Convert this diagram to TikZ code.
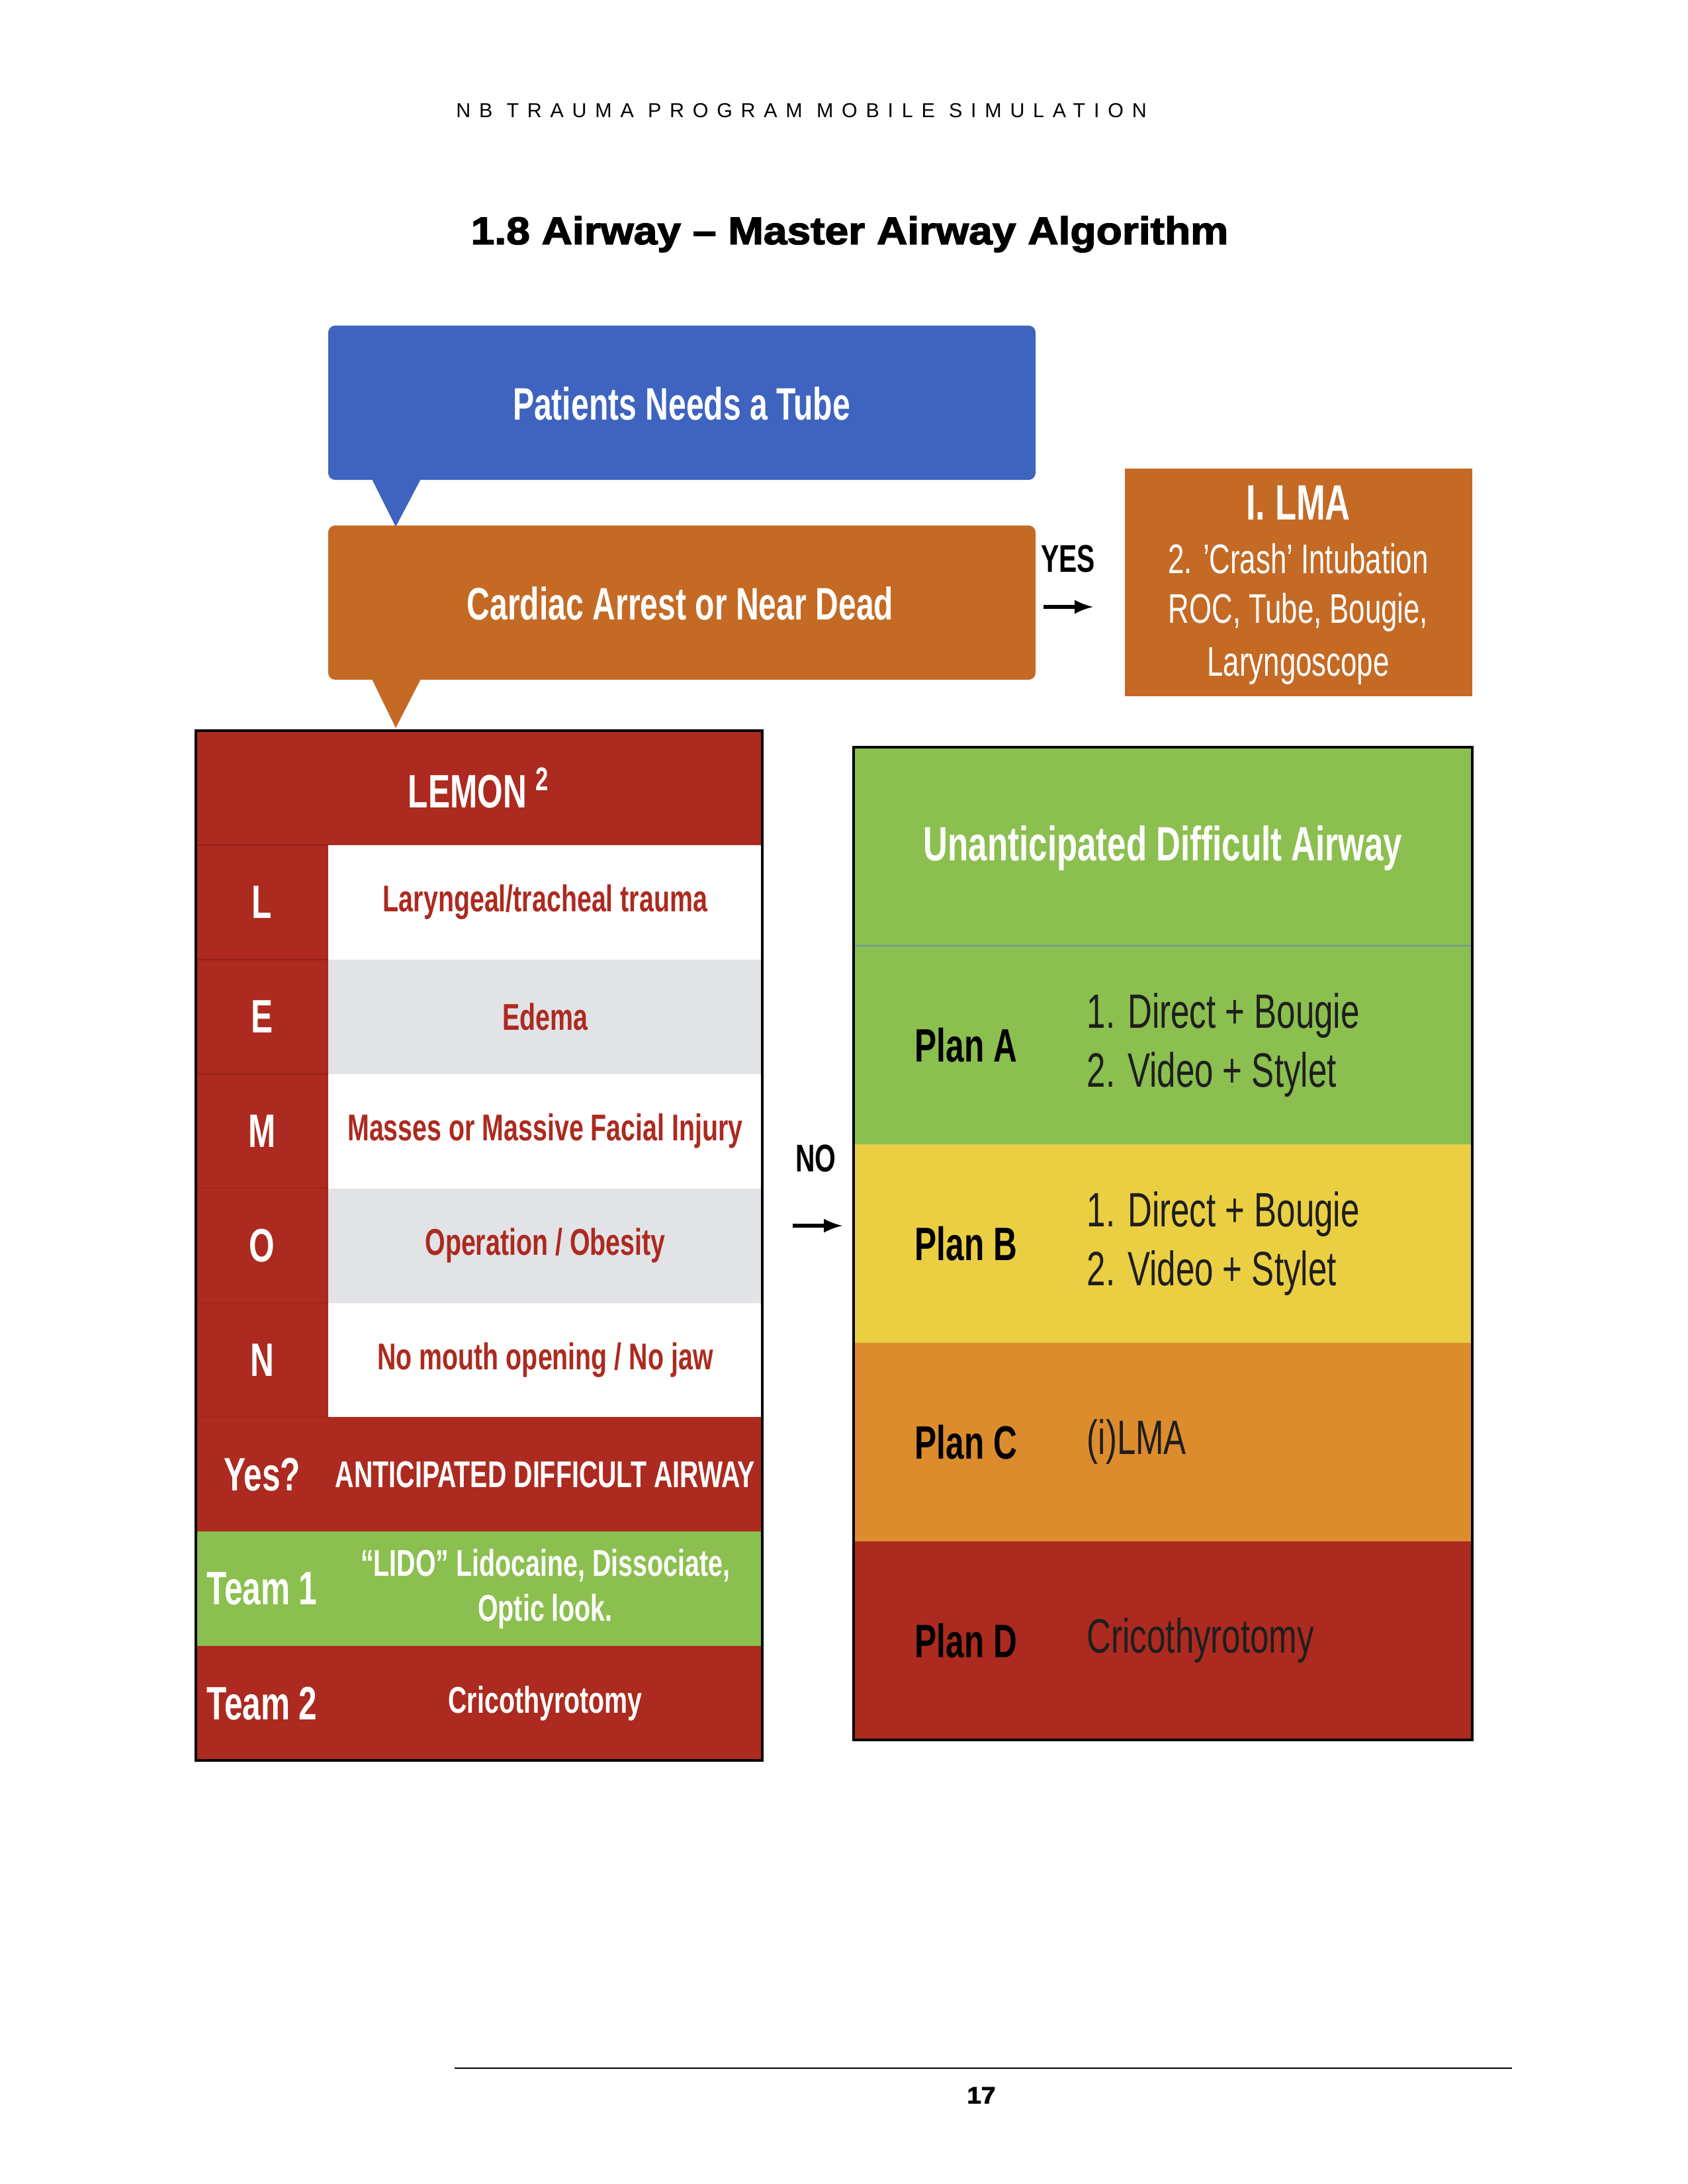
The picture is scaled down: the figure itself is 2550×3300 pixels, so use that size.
\documentclass[tikz,border=0pt]{standalone}
\usepackage{fontspec}
\setmainfont{Liberation Sans}
\newfontfamily\condfont[FakeStretch=0.7]{Liberation Sans}
\newfontfamily\headfont[LetterSpace=42]{Liberation Sans}
\newfontfamily\heavyfont[FakeStretch=1.1,FakeBold=2.5]{Liberation Sans Bold}
\usetikzlibrary{arrows,calc}

\definecolor{tubeblue}{HTML}{3E64BF}
\definecolor{arrestorange}{HTML}{C46A25}
\definecolor{lemonred}{HTML}{AC2A1F}
\definecolor{lemongray}{HTML}{E2E3E7}
\definecolor{teamgreen}{HTML}{8BBF4F}
\definecolor{planyellow}{HTML}{EBCF43}
\definecolor{planorange}{HTML}{DC8C2D}
\definecolor{plandark}{HTML}{1E1E1E}
\definecolor{sepred}{HTML}{952016}
\definecolor{planline}{HTML}{6C93A8}

\tikzset{
  callouttext/.style={text=white, font=\condfont\bfseries\fontsize{16.5}{19}\selectfont},
  lmatext/.style={text=white, font=\condfont\fontsize{15}{18}\selectfont},
  lettertext/.style={text=white, font=\condfont\bfseries\fontsize{17}{20}\selectfont},
  lemontext/.style={text=lemonred, font=\condfont\bfseries\fontsize{13.5}{16.3}\selectfont, align=center},
  plantitle/.style={text=black, font=\condfont\bfseries\fontsize{17}{20}\selectfont},
  plantext/.style={text=plandark, font=\condfont\fontsize{17.5}{21.4}\selectfont, align=left, anchor=west},
  choicetext/.style={font=\condfont\bfseries\fontsize{14}{16}\selectfont},
  choicearrow/.style={->, line width=1.3pt},
  sepline/.style={color=sepred, line width=0.4pt},
}

\begin{document}
\begin{tikzpicture}[x=0.24pt,y=-0.24pt,>=latex]
      \useasboundingbox (0,0) rectangle (2550,3300);
      \node (head) at (1211,167) {\headfont\fontsize{7.3}{8}\selectfont NB TRAUMA PROGRAM MOBILE SIMULATION};
      \node (title) at (1284,354) {\heavyfont\fontsize{14}{16}\selectfont 1.8 Airway – Master Airway Algorithm};

      % callouts
      \fill[tubeblue, rounded corners=2.5pt] (496,492) rectangle (1565,725);
      \fill[tubeblue] (560,720) -- (598,796) -- (638,720) -- cycle;
      \node[callouttext] (tube) at (1030,610) {Patients Needs a Tube};
      \fill[arrestorange, rounded corners=2.5pt] (496,794) rectangle (1565,1027);
      \fill[arrestorange] (560,1022) -- (598,1100) -- (638,1022) -- cycle;
      \node[callouttext] (arrest) at (1028,912) {Cardiac Arrest or Near Dead};

      \fill[arrestorange] (1700,708) rectangle (2225,1052);
      \node[lmatext, font=\condfont\bfseries\fontsize{18}{20}\selectfont] (lma-1) at (1962,760) {I. LMA};
      \node[lmatext] (lma-2) at (1962,844) {2. ’Crash’ Intubation};
      \node[lmatext] (lma-3) at (1962,925) {ROC, Tube, Bougie,};
      \node[lmatext] (lma-4) at (1962,1006) {Laryngoscope};

      \node[choicetext] (yes) at (1614,844) {YES};
      \coordinate (yes-from) at (1577,917);
      \coordinate (yes-to) at (1652,917);
      \draw[choicearrow] (yes-from) -- (yes-to);

      % LEMON
      \def\Lx{296}
      \def\Mx{496}
      \def\Rx{1152}
      \def\Ty{1104}
      \def\rh{172.9}
      \pgfmathsetmacro\By{\Ty+9*\rh}
      \fill[lemonred] (\Lx,\Ty) rectangle (\Rx,\By);
      \node[lettertext] (lemon) at ({(\Lx+\Rx)/2},{\Ty+0.5*\rh}) {LEMON \textsuperscript{2}};
      \foreach \k/\letter/\txt/\bg in {1/L/{Laryngeal/tracheal trauma}/white,
                                       2/E/Edema/lemongray,
                                       3/M/Masses or Massive Facial Injury/white,
                                       4/O/{Operation / Obesity}/lemongray,
                                       5/N/{No mouth opening / No jaw}/white}{
        \fill[\bg] (\Mx,{\Ty+\k*\rh}) rectangle (\Rx,{\Ty+(\k+1)*\rh});
        \draw[sepline] (\Lx,{\Ty+\k*\rh}) -- (\Mx,{\Ty+\k*\rh});
        \node[lettertext] (letter-\letter) at ({(\Lx+\Mx)/2},{\Ty+(\k+0.5)*\rh}) {\letter};
        \node[lemontext] (lemon-\letter) at ({(\Mx+\Rx)/2},{\Ty+(\k+0.5)*\rh}) {\txt};
      }
      \draw[sepline] (\Lx,{\Ty+6*\rh}) -- (\Mx,{\Ty+6*\rh});
      \node[lettertext] (yes-q) at ({(\Lx+\Mx)/2},{\Ty+6.5*\rh}) {Yes?};
      \node[lemontext, text=white, font=\condfont\bfseries\fontsize{13.5}{16}\selectfont] (anticipated) at ({(\Mx+\Rx)/2},{\Ty+6.5*\rh}) {ANTICIPATED DIFFICULT AIRWAY};
      \fill[teamgreen] (\Lx,{\Ty+7*\rh}) rectangle (\Rx,{\Ty+8*\rh});
      \node[lettertext] (team-1) at ({(\Lx+\Mx)/2},{\Ty+7.5*\rh}) {Team 1};
      \node[lemontext, text=white] (lido) at ({(\Mx+\Rx)/2},{\Ty+7.5*\rh}) {“LIDO” Lidocaine, Dissociate,\\Optic look.};
      \node[lettertext] (team-2) at ({(\Lx+\Mx)/2},{\Ty+8.5*\rh}) {Team 2};
      \node[lemontext, text=white] (crico-1) at ({(\Mx+\Rx)/2},{\Ty+8.5*\rh}) {Cricothyrotomy};
      \draw[line width=1.1pt] (\Lx,\Ty) rectangle (\Rx,\By);

      \node[choicetext] (no) at (1233,1750) {NO};
      \coordinate (no-from) at (1198,1852);
      \coordinate (no-to) at (1273,1852);
      \draw[choicearrow] (no-from) -- (no-to);

      % plans
      \def\Px{1290}
      \def\Qx{2225}
      \def\Hy{1129}
      \def\Py{1429}
      \def\ph{300}
      \fill[teamgreen] (\Px,\Hy) rectangle (\Qx,\Py);
      \node[lettertext, font=\condfont\bfseries\fontsize{17.5}{20}\selectfont] (unanticipated) at ({(\Px+\Qx)/2},1282) {Unanticipated Difficult Airway};
      \foreach \k/\plan/\bg/\txt in {0/A/teamgreen/{1. Direct + Bougie\\2. Video + Stylet},
                                     1/B/planyellow/{1. Direct + Bougie\\2. Video + Stylet},
                                     2/C/planorange/(i)LMA,
                                     3/D/lemonred/Cricothyrotomy}{
        \fill[\bg] (\Px,{\Py+\k*\ph}) rectangle (\Qx,{\Py+(\k+1)*\ph});
        \node[plantitle] (plan-\plan) at (1460,{\Py+(\k+0.5)*\ph}) {Plan \plan};
        \node[plantext] (plan-\plan-text) at (1628,{\Py+(\k+0.5)*\ph}) {\txt};
      }
      \draw[color=planline, line width=0.5pt] (\Px,\Py) -- (\Qx,\Py);
      \draw[line width=1.1pt] (\Px,\Hy) rectangle (\Qx,{\Py+4*\ph});

      % foot
      \coordinate (foot-left) at (687,3125);
      \coordinate (foot-right) at (2285,3125);
      \draw[line width=0.6pt] (foot-left) -- (foot-right);
      \node (page) at (1483,3166) {\heavyfont\fontsize{8.5}{10}\selectfont 17};
\end{tikzpicture}
\end{document}
